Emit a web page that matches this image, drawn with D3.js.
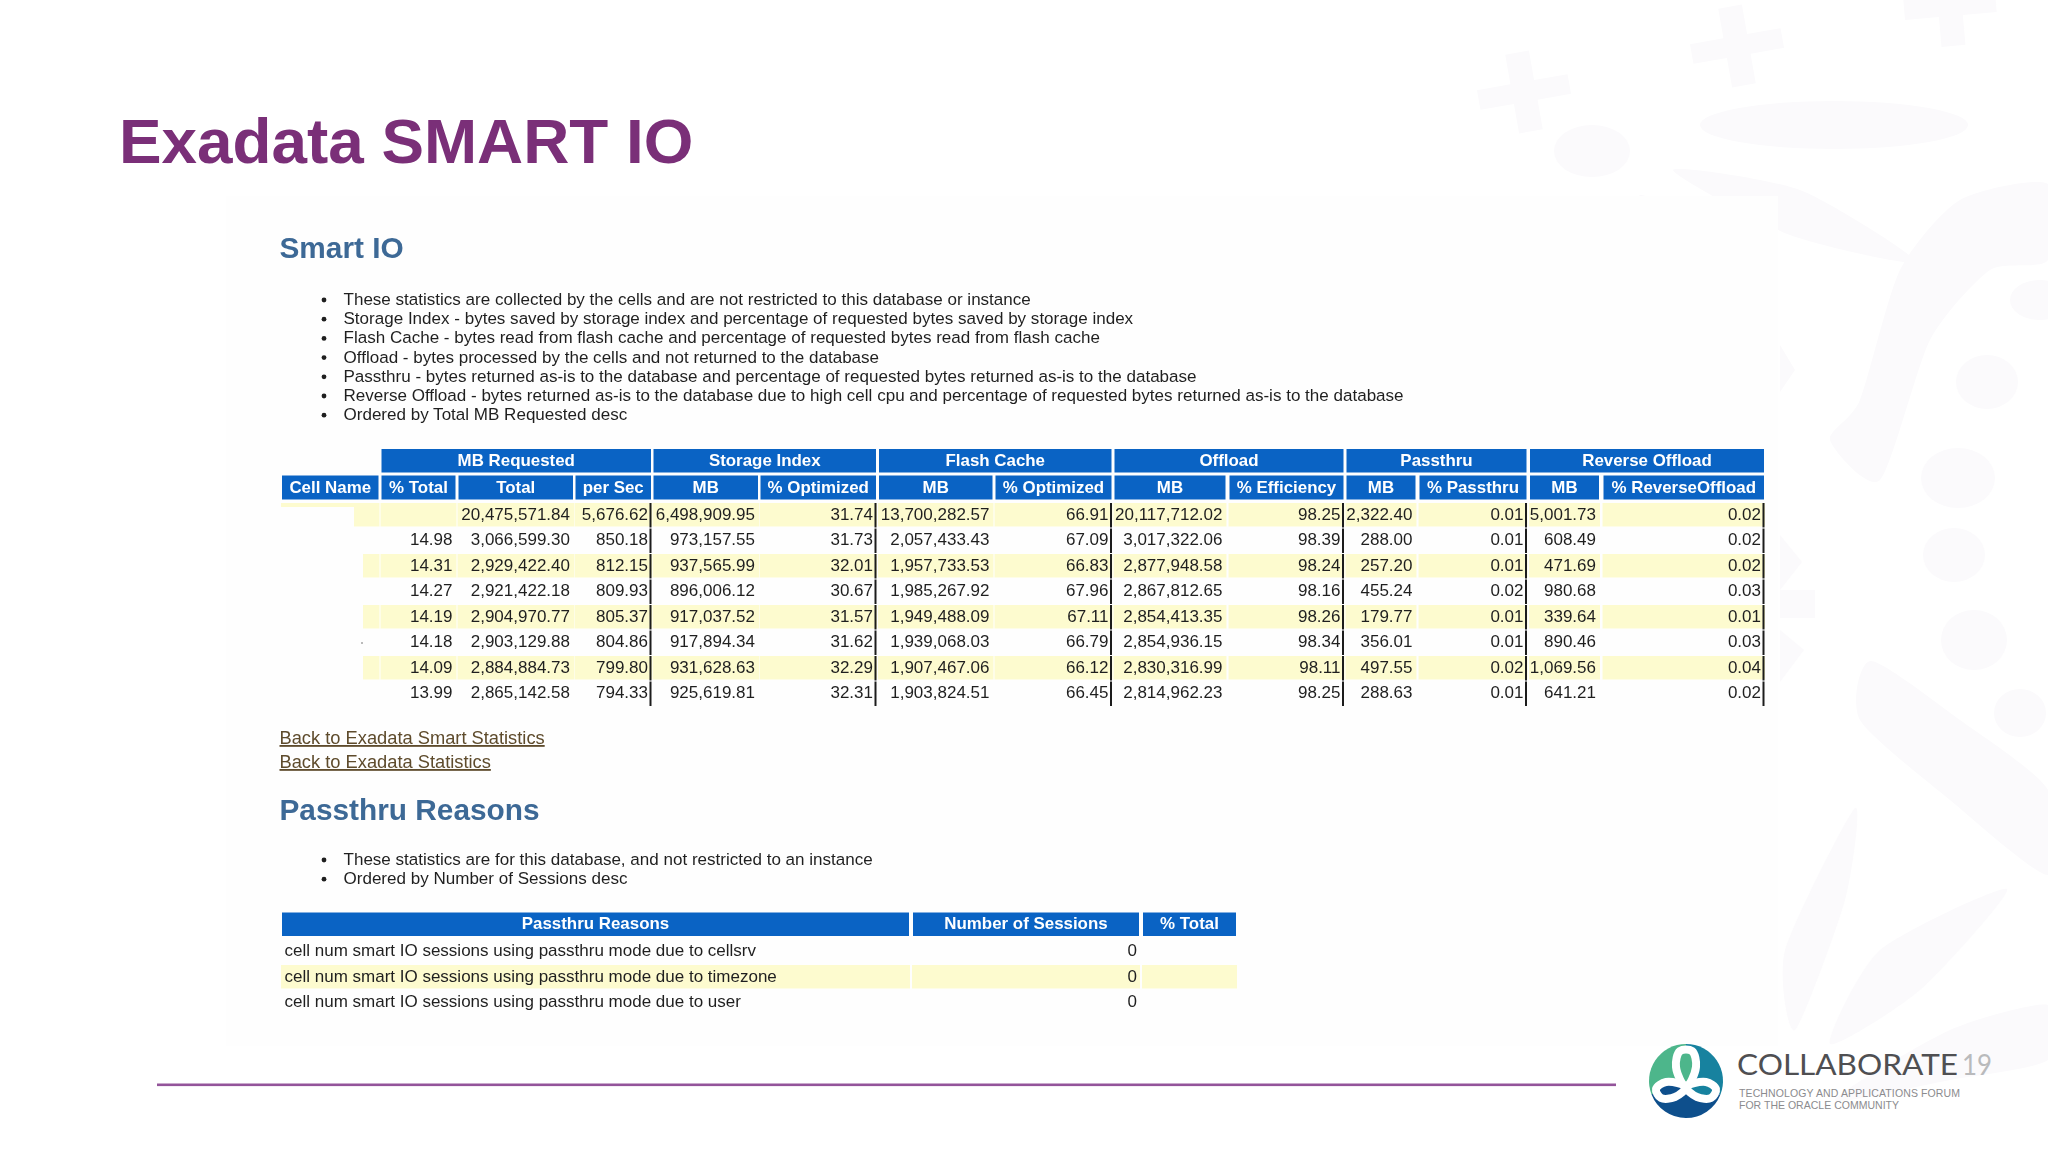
<!DOCTYPE html>
<html>
<head>
<meta charset="utf-8">
<script src="https://cdnjs.cloudflare.com/ajax/libs/d3/7.8.5/d3.min.js"></script>
<style>
body { margin: 0; background: #fff; }
text { font-family: "Liberation Sans", Arial, sans-serif; }
text.brand { font-family: Lato, "Liberation Sans", sans-serif; }
</style>
</head>
<body>
<div id="slide"></div>
<script>
// smart io table
var rowIds = [0, 1, 2, 3, 4, 5, 6, 7];
var pctTotal = ["", "14.98", "14.31", "14.27", "14.19", "14.18", "14.09", "13.99"];
var mbTotal = ["20,475,571.84", "3,066,599.30", "2,929,422.40", "2,921,422.18", "2,904,970.77", "2,903,129.88", "2,884,884.73", "2,865,142.58"];
var mbPerSec = ["5,676.62", "850.18", "812.15", "809.93", "805.37", "804.86", "799.80", "794.33"];
var storageMb = ["6,498,909.95", "973,157.55", "937,565.99", "896,006.12", "917,037.52", "917,894.34", "931,628.63", "925,619.81"];
var storagePct = ["31.74", "31.73", "32.01", "30.67", "31.57", "31.62", "32.29", "32.31"];
var flashMb = ["13,700,282.57", "2,057,433.43", "1,957,733.53", "1,985,267.92", "1,949,488.09", "1,939,068.03", "1,907,467.06", "1,903,824.51"];
var flashPct = ["66.91", "67.09", "66.83", "67.96", "67.11", "66.79", "66.12", "66.45"];
var offloadMb = ["20,117,712.02", "3,017,322.06", "2,877,948.58", "2,867,812.65", "2,854,413.35", "2,854,936.15", "2,830,316.99", "2,814,962.23"];
var offloadPct = ["98.25", "98.39", "98.24", "98.16", "98.26", "98.34", "98.11", "98.25"];
var passMb = ["2,322.40", "288.00", "257.20", "455.24", "179.77", "356.01", "497.55", "288.63"];
var passPct = ["0.01", "0.01", "0.01", "0.02", "0.01", "0.01", "0.02", "0.01"];
var reverseMb = ["5,001.73", "608.49", "471.69", "980.68", "339.64", "890.46", "1,069.56", "641.21"];
var reversePct = ["0.02", "0.02", "0.02", "0.03", "0.01", "0.03", "0.04", "0.02"];
var cellNames = ["", "", "", "", "", "", "", ""];

var columnLabels = ["Cell Name", "% Total", "Total", "per Sec", "MB", "% Optimized", "MB", "% Optimized", "MB", "% Efficiency", "MB", "% Passthru", "MB", "% ReverseOffload"];
var columnValues = [cellNames, pctTotal, mbTotal, mbPerSec, storageMb, storagePct, flashMb, flashPct, offloadMb, offloadPct, passMb, passPct, reverseMb, reversePct];
var groupLabels = ["MB Requested", "Storage Index", "Flash Cache", "Offload", "Passthru", "Reverse Offload"];
var groupFirst = [1, 4, 6, 8, 10, 12];
var groupLast = [3, 5, 7, 9, 11, 13];
var barColumns = [3, 5, 7, 9, 11, 13];

// passthru table
var reasonHeaders = ["Passthru Reasons", "Number of Sessions", "% Total"];
var reasonNames = ["cell num smart IO sessions using passthru mode due to cellsrv", "cell num smart IO sessions using passthru mode due to timezone", "cell num smart IO sessions using passthru mode due to user"];
var reasonSessions = [0, 0, 0];

var smartNotes = [
  "These statistics are collected by the cells and are not restricted to this database or instance",
  "Storage Index - bytes saved by storage index and percentage of requested bytes saved by storage index",
  "Flash Cache - bytes read from flash cache and percentage of requested bytes read from flash cache",
  "Offload - bytes processed by the cells and not returned to the database",
  "Passthru - bytes returned as-is to the database and percentage of requested bytes returned as-is to the database",
  "Reverse Offload - bytes returned as-is to the database due to high cell cpu and percentage of requested bytes returned as-is to the database",
  "Ordered by Total MB Requested desc"];
var reasonNotes = ["These statistics are for this database, and not restricted to an instance", "Ordered by Number of Sessions desc"];
var backLinks = ["Back to Exadata Smart Statistics", "Back to Exadata Statistics"];

// layout
var w = 2048, h = 1152;
var columnLefts = [282, 381.5, 458.5, 575.5, 653.5, 760.5, 879, 995.5, 1114.5, 1229.5, 1346.5, 1419.5, 1530, 1603.5];
var columnRights = [378.5, 455.5, 573, 651, 758, 876, 992.5, 1111.5, 1225.5, 1343.5, 1415.5, 1526.5, 1599, 1764];
var reasonLefts = [282, 913, 1143];
var reasonRights = [909, 1139, 1236];
var blue = "#0a63c4", yellow = "#fdfbcf", ink = "#1f1f1f";

var svg = d3.select("#slide").append("svg").attr("width", w).attr("height", h).style("display", "block");

// faint slide artwork behind everything
var art = svg.append("g").attr("fill", "#fbfafc").attr("stroke", "none");
var blobs = [[1834, 125, 134, 24], [1592, 151, 38, 26], [1987, 382, 31, 27], [1958, 478, 37, 30], [1954, 555, 31, 27], [1974, 640, 33, 30], [2020, 713, 26, 24], [1590, 250, 20, 14], [2040, 300, 30, 20]];
art.selectAll("ellipse").data(blobs).enter().append("ellipse")
  .attr("cx", function(d) { return d[0]; }).attr("cy", function(d) { return d[1]; })
  .attr("rx", function(d) { return d[2]; }).attr("ry", function(d) { return d[3]; });
var crosses = [[1524, 92, -10], [1737, 46, -10], [1950, 6, -5]];
art.selectAll("path.cross").data(crosses).enter().append("path").attr("class", "cross")
  .attr("d", "M-46,-10H-12V-40H12V-10H46V10H12V40H-12V10H-46Z")
  .attr("transform", function(d) { return "translate(" + d[0] + "," + d[1] + ") rotate(" + d[2] + ")"; });
var leaf = d3.line().curve(d3.curveCardinalClosed.tension(0.3));
var leaves = [
  [[1673, 170], [1800, 190], [1916, 262], [1790, 235]],
  [[1640, 195], [1700, 215], [1770, 228], [1660, 228]],
  [[1505, 228], [1512, 205], [1530, 228]],
  [[2048, 184], [1960, 200], [1900, 270], [1860, 400], [1830, 440], [1880, 480], [1930, 340], [1990, 270], [2048, 260]],
  [[1871, 661], [1960, 720], [2048, 790], [2048, 875], [1950, 800], [1860, 720]],
  [[1855, 808], [1845, 900], [1795, 1030], [1785, 950]],
  [[2007, 889], [1920, 990], [1830, 1044], [1880, 950]],
  [[2048, 1005], [1950, 1030], [1835, 1100], [1950, 1080], [2048, 1060]]
];
art.selectAll("path.leaf").data(leaves).enter().append("path").attr("class", "leaf").attr("d", leaf);
var wedges = [[[1780, 345], [1795, 370], [1780, 392]], [[1780, 535], [1802, 562], [1780, 590]], [[1780, 590], [1815, 590], [1815, 618], [1780, 618]], [[1780, 630], [1804, 650], [1780, 682]]];
art.selectAll("path.wedge").data(wedges).enter().append("path").attr("class", "wedge").attr("d", d3.line());

// screenshot sits on a flat panel
svg.append("rect").attr("x", 226).attr("y", 196).attr("width", 1552).attr("height", 850).attr("fill", "#fefefe");

svg.append("text").attr("x", 119).attr("y", 163).attr("font-size", 63.8).attr("font-weight", "bold")
  .attr("fill", "#7a2f78").text("Exadata SMART IO");

var page = svg.append("g").style("filter", "blur(0.5px)");

function heading(label, y) {
  page.append("text").attr("x", 279.5).attr("y", y).attr("font-size", 29.8).attr("font-weight", "bold")
    .attr("fill", "#3d6996").text(label);
}
function bullets(notes, top) {
  var ys = d3.scalePoint().domain(d3.range(notes.length)).range([top, top + 19.2 * (notes.length - 1)]);
  var g = page.append("g").selectAll("g").data(notes).enter().append("g")
    .attr("transform", function(d, i) { return "translate(0," + ys(i) + ")"; });
  g.append("circle").attr("cx", 324).attr("cy", 1).attr("r", 2.4).attr("fill", ink);
  g.append("text").attr("x", 343.5).attr("y", 6).attr("font-size", 17.05).attr("fill", ink).text(function(d) { return d; });
}

heading("Smart IO", 258);
bullets(smartNotes, 299);

// table headers
var rowScale = d3.scaleBand().domain(rowIds).range([502, 706]);
function headerCell(g, x0, x1, y, ht, label) {
  g.append("rect").attr("x", x0).attr("y", y).attr("width", x1 - x0).attr("height", ht).attr("fill", blue);
  g.append("text").attr("x", (x0 + x1) / 2).attr("y", y + ht / 2 + 5).attr("text-anchor", "middle")
    .attr("font-size", 16.9).attr("font-weight", "bold").attr("fill", "#fff").text(label);
}
var head = page.append("g");
groupLabels.forEach(function(label, i) {
  headerCell(head, columnLefts[groupFirst[i]], columnRights[groupLast[i]], 449, 23.5, label);
});
columnLabels.forEach(function(label, i) {
  headerCell(head, columnLefts[i], columnRights[i], 475.5, 24, label);
});

// stripes, skipping the blanked out cell names
var body = page.append("g");
rowIds.forEach(function(r) {
  if (r % 2 == 0) {
    columnLabels.forEach(function(label, i) {
      body.append("rect").attr("x", columnLefts[i] - 1).attr("y", rowScale(r) + 1)
        .attr("width", columnRights[i] - columnLefts[i] + 2).attr("height", rowScale.bandwidth() - 2).attr("fill", yellow);
    });
    body.append("rect").attr("x", 278).attr("y", rowScale(r) + (r == 0 ? 5 : -1))
      .attr("width", r == 0 ? 76 : 85).attr("height", rowScale.bandwidth() + 2).attr("fill", "#fefefe");
  }
});
columnValues.forEach(function(values, i) {
  body.append("g").selectAll("text").data(values).enter().append("text")
    .attr("x", columnRights[i] - 3)
    .attr("y", function(d, r) { return rowScale(r) + rowScale.bandwidth() / 2 + 5; })
    .attr("text-anchor", "end").attr("font-size", 17).attr("fill", ink)
    .text(function(d) { return d; });
});
barColumns.forEach(function(c) {
  body.append("g").selectAll("rect").data(rowIds).enter().append("rect")
    .attr("x", columnRights[c] - 1.5).attr("width", 2)
    .attr("y", function(r) { return rowScale(r) + 1; }).attr("height", rowScale.bandwidth() - 1)
    .attr("fill", "#1c1c1c");
});
body.append("circle").attr("cx", 362).attr("cy", 643).attr("r", 0.8).attr("fill", "#666");

// links
var linkScale = d3.scalePoint().domain(backLinks).range([744, 768]);
page.append("g").selectAll("text").data(backLinks).enter().append("text")
  .attr("x", 279.5).attr("y", function(d) { return linkScale(d); })
  .attr("font-size", 18.3).attr("fill", "#5e4b2c").attr("text-decoration", "underline")
  .text(function(d) { return d; });

heading("Passthru Reasons", 820);
bullets(reasonNotes, 859);

// passthru table
var reasonHead = page.append("g");
reasonHeaders.forEach(function(label, i) {
  headerCell(reasonHead, reasonLefts[i], reasonRights[i], 912.5, 23.5, label);
});
var reasonRows = d3.scaleBand().domain(d3.range(reasonNames.length)).range([938.5, 1015]);
reasonNames.forEach(function(name, r) {
  if (r % 2 == 1) {
    reasonLefts.forEach(function(x0, i) {
      page.append("rect").attr("x", x0 - 1).attr("y", reasonRows(r) + 1).attr("width", reasonRights[i] - x0 + 2)
        .attr("height", reasonRows.bandwidth() - 2).attr("fill", yellow);
    });
  }
});
page.append("g").selectAll("text").data(reasonNames).enter().append("text")
  .attr("x", 284.5).attr("y", function(d, r) { return reasonRows(r) + reasonRows.bandwidth() / 2 + 5; })
  .attr("font-size", 17).attr("fill", ink).text(function(d) { return d; });
page.append("g").selectAll("text").data(reasonSessions).enter().append("text")
  .attr("x", reasonRights[1] - 2).attr("y", function(d, r) { return reasonRows(r) + reasonRows.bandwidth() / 2 + 5; })
  .attr("text-anchor", "end").attr("font-size", 17).attr("fill", ink).text(function(d) { return d; });

// footer rule and logo
svg.append("rect").attr("x", 157).attr("y", 1083.5).attr("width", 1459).attr("height", 2.6).attr("fill", "#93549a");

var logo = svg.append("g").attr("transform", "translate(1686,1081)");
var sector = d3.arc().innerRadius(0).outerRadius(37);
var sectors = [[-1.95, 0, "#4db68b"], [0, 1.95, "#17829f"], [1.95, 4.34, "#0e4f8c"]];
logo.selectAll("path.sector").data(sectors).enter().append("path").attr("class", "sector")
  .attr("d", function(d) { return sector({startAngle: d[0], endAngle: d[1]}); })
  .attr("fill", function(d) { return d[2]; });
var loop = d3.line().curve(d3.curveCatmullRomClosed.alpha(0.5));
var loops = [
  [[[0, 6], [-10, -14], [-6, -30], [6, -30], [10, -14]], "#4db68b"],
  [[[0, 6], [-20, 1], [-30, 8], [-25, 17], [-11, 16]], "#0e4f8c"],
  [[[0, 6], [20, 1], [30, 8], [25, 17], [11, 16]], "#17829f"]
];
logo.selectAll("path.loop").data(loops).enter().append("path").attr("class", "loop")
  .attr("d", function(d) { return loop(d[0]); })
  .attr("fill", function(d) { return d[1]; }).attr("stroke", "#fff").attr("stroke-width", 8);

svg.append("text").attr("class", "brand").attr("x", 1737).attr("y", 1075).attr("font-size", 28).attr("fill", "#4f4f52")
  .attr("textLength", 221).attr("lengthAdjust", "spacingAndGlyphs").text("COLLABORATE");
svg.append("text").attr("class", "brand").attr("x", 1962).attr("y", 1075).attr("font-size", 28).attr("fill", "#b9babc")
  .attr("textLength", 30).attr("lengthAdjust", "spacingAndGlyphs").text("19");
svg.append("text").attr("x", 1739).attr("y", 1097).attr("font-size", 10.5).attr("fill", "#8b8b8e")
  .attr("textLength", 221).text("TECHNOLOGY AND APPLICATIONS FORUM");
svg.append("text").attr("x", 1739).attr("y", 1109).attr("font-size", 10.5).attr("fill", "#8b8b8e")
  .attr("textLength", 160).text("FOR THE ORACLE COMMUNITY");
</script>
</body>
</html>
